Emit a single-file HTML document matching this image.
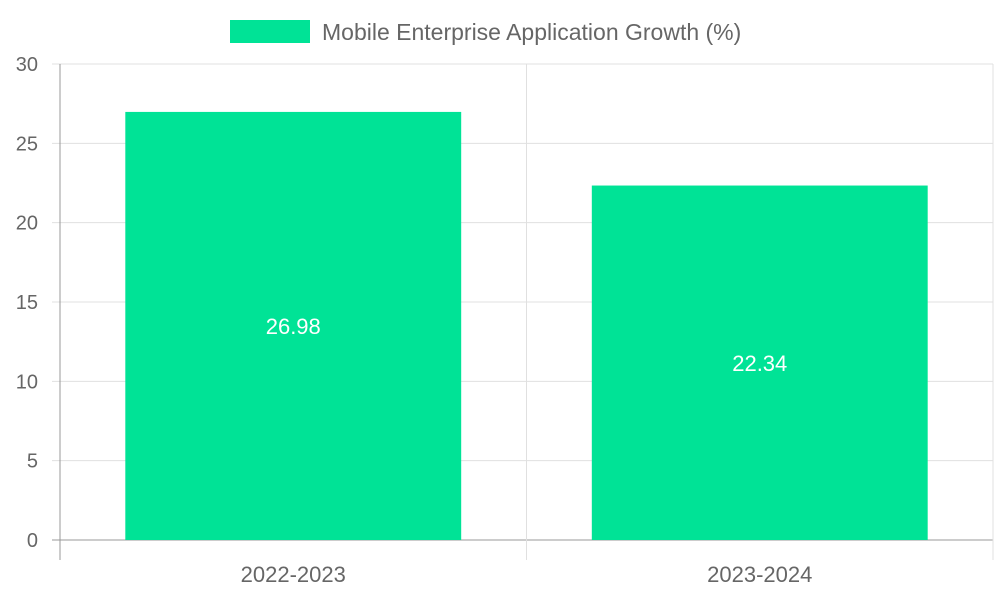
<!DOCTYPE html>
<html><head><meta charset="utf-8"><style>
body{margin:0;background:#fff;}
svg{display:block;font-family:"Liberation Sans",sans-serif;}
</style></head><body>
<svg id="chart" width="1000" height="600">
<g>
<rect x="230" y="20" width="80" height="23" fill="#00e396"></rect>
<text x="322" y="40" font-size="23" fill="#666">Mobile Enterprise Application Growth (%)</text>
</g>
<g id="grid"></g>
<g id="bars"></g>
<g id="axes"></g>
</svg>
<script>
const categories = ["2022-2023", "2023-2024"];
const values = [26.98, 22.34];
const yTicks = [0, 5, 10, 15, 20, 25, 30];
const NS = "http://www.w3.org/2000/svg";
const L = 60, R = 993, T = 64, B = 540, yMax = 30;
const y = v => B - (v / yMax) * (B - T);
const bandW = (R - L) / categories.length;
const x = i => L + i * bandW;
function mk(tag, attrs, parent, text) {
  const e = document.createElementNS(NS, tag);
  for (const k in attrs) e.setAttribute(k, attrs[k]);
  if (text !== undefined) e.textContent = text;
  parent.appendChild(e);
  return e;
}
const grid = document.getElementById('grid'), bars = document.getElementById('bars'), axes = document.getElementById('axes');
yTicks.forEach(t => {
  const ln = mk('line', {x1: 52, x2: R, y1: y(t), y2: y(t), stroke: t === 0 ? '#999' : '#e0e0e0', 'stroke-width': 1}, grid);
  
  
  const tx = mk('text', {x: 38, y: y(t) + 7, 'text-anchor': 'end', 'font-size': 20, fill: '#666'}, axes, String(t));
  
  
});
for (let i = 0; i <= categories.length; i++) {
  const ln = mk('line', {x1: x(i), x2: x(i), y1: T, y2: 560, stroke: i === 0 ? '#999' : '#e0e0e0', 'stroke-width': 1}, grid);
  
  
}
categories.forEach((c, i) => {
  const bw = bandW * 0.72;
  const cx = x(i) + bandW / 2;
  const r = mk('rect', {x: cx - bw / 2, y: y(values[i]), width: bw, height: B - y(values[i]), fill: '#00e396'}, bars);
  
  
  const v = mk('text', {x: cx, y: (y(values[i]) + B) / 2 + 8, 'text-anchor': 'middle', 'font-size': 22, fill: '#fff'}, bars, values[i].toFixed(2));
  
  
  const xl = mk('text', {x: cx, y: 582, 'text-anchor': 'middle', 'font-size': 22, fill: '#666'}, axes, c);
  
  
});
</script>
</body></html>
